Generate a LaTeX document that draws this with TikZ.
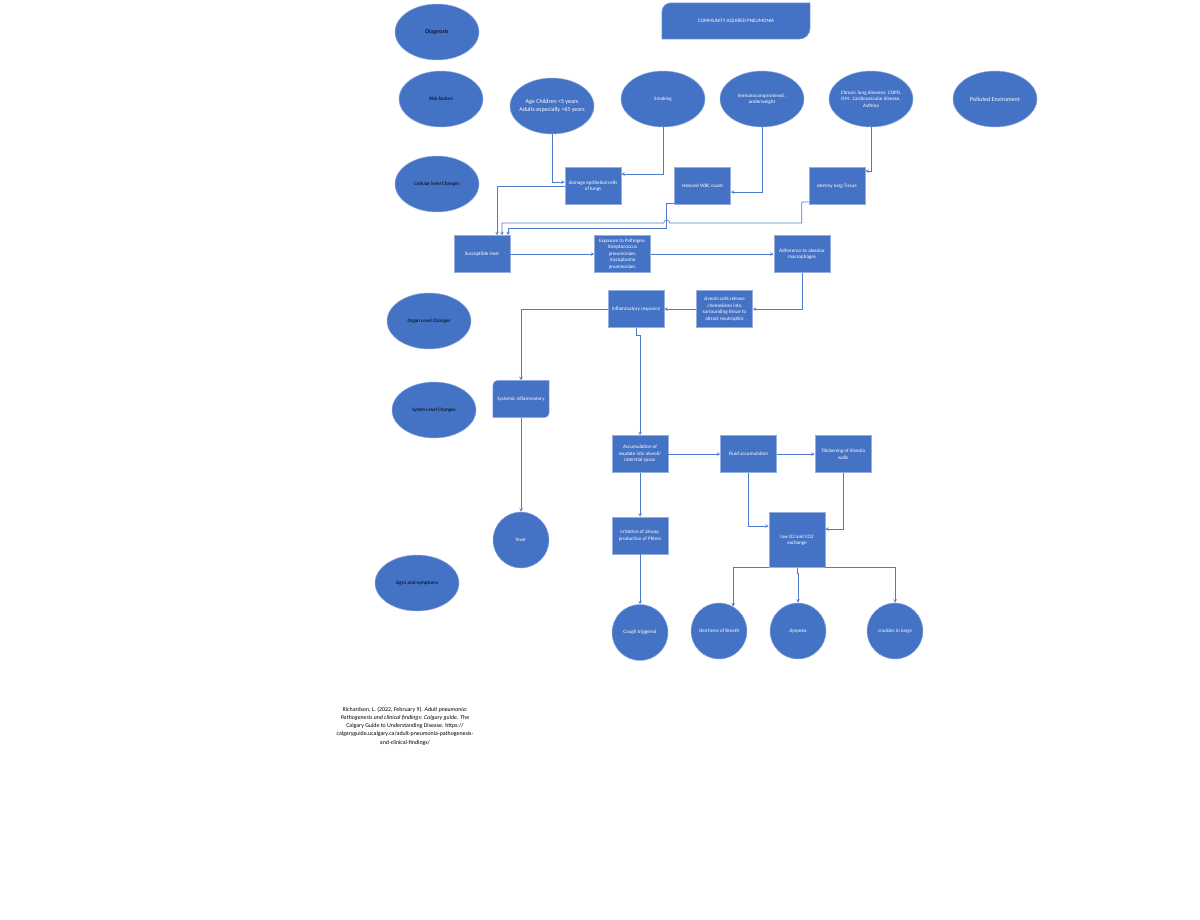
\documentclass[tikz,border=0pt]{standalone}
\usepackage{fontspec}
\setmainfont{Carlito}
\usepackage{tikz}
\usetikzlibrary{shapes.geometric, arrows, positioning, backgrounds}
\definecolor{nodeblue}{RGB}{68,114,196}
\definecolor{edgeblue}{RGB}{150,175,222}
\definecolor{lineblue}{RGB}{80,122,204}
\newcommand{\boxfont}{\fontsize{5.1}{6.6}\selectfont}
\newcommand{\bigfont}{\fontsize{6}{7.6}\selectfont}
\tikzset{
    level/.style={ellipse, draw=edgeblue, fill=nodeblue, line width=0.5pt, minimum width=84pt, minimum height=56pt, inner sep=1pt, align=center, text=black, font=\boxfont},
    factor/.style={ellipse, draw=edgeblue, fill=nodeblue, line width=0.5pt, minimum width=84pt, minimum height=56pt, inner ysep=1pt, inner xsep=-6pt, align=center, text=white, font=\boxfont},
    change/.style={rectangle, draw=edgeblue, fill=nodeblue, line width=0.5pt, minimum width=56pt, minimum height=37pt, inner sep=1pt, align=center, text=white, font=\boxfont},
    symptom/.style={circle, draw=edgeblue, fill=nodeblue, line width=0.5pt, minimum size=56pt, inner sep=0pt, align=center, text=white, font=\boxfont},
    banner/.style={rectangle, inner sep=1pt, align=center, text=white, font=\boxfont},
    arrow/.style={->, >=stealth, line width=0.6pt, draw=lineblue}
}

\begin{document}
\begin{tikzpicture}[x=1pt, y=-1pt]
        \useasboundingbox (0,0) rectangle (1200,919);

        % --- Title and level labels ---
        \node (title) [banner, minimum width=148pt, minimum height=36pt] at (736,21) {COMMUNITY AQUIRED PNEUMONIA};

        \node (diag) [level, font=\bigfont] at (437,32) {Diagnosis};
        \node (risk) [level] at (441,99) {Risk factors};
        \node (cell) [level] at (437,184) {Cellular level Changes};
        \node (organ) [level] at (429,321) {Organ Level Changes};
        \node (sys) [level] at (434,410) {Sytem Level Changes};
        \node (signs) [level] at (417,583) {Signs and symptoms};

        % --- Risk factors ---
        \node (age) [factor, font=\bigfont, inner xsep=-12pt] at (552,106) {Age Children <5 years \\ Adults especially >65 years};
        \node (smoke) [factor] at (663,99) {Smoking};
        \node (immune) [factor] at (762,99) {Immunocompromised , \\ underweight};
        \node (chronic) [factor] at (871,99) {Chronic lung diseases: COPD, \\ DM , Cardiovascular disease, \\ Asthma};
        \node (pollut) [factor, font=\bigfont] at (995,99) {Polluted Enviroment};

        % --- Cellular level ---
        \node (damage) [change] at (593,186) {damage epitheleal cells \\ of lungs};
        \node (wbc) [change, right=53pt of damage] {reduced WBC count};
        \node (destroy) [change, right=78pt of wbc] {destroy lung Tissue};

        \node (host) [change] at (482,254) {Susceptible Host};
        \node (expo) [change, right=84pt of host] {Exposure to Pathogen: \\ Streptococcus \\ pneumoniae, \\ mycoplasma \\ pnuemoniae,};
        \node (adher) [change, right=123pt of expo] {Adherence to alveolar \\ macrophages};

        % --- Organ level ---
        \node (infl) [change] at (636,309) {Inflammatory responce};
        \node (alv) [change, right=32pt of infl] {alveola cells release \\ chemokines into \\ surrounding tissue to \\ attract neutrophils};

        % --- System level ---
        \node (systemic) [banner, minimum width=56pt, minimum height=37pt] at (521,399) {Systemic inflammatory};

        \node (acc) [change] at (640,454) {Accumulation of \\ exudate into alveoli/ \\ interstial space};
        \node (fluid) [change, right=52pt of acc] {Fluid accumulation};
        \node (thick) [change, right=38pt of fluid] {Thickening of Alveola \\ walls};

        \node (fever) [symptom] at (521,540) {fever};
        \node (irrit) [change, below=44pt of acc] {irritation of airway, \\ production of Phlem};
        \node (lowo) [change, minimum height=55pt] at (797,540) {low O2 and CO2 \\ exchange};

        % --- Signs and symptoms ---
        \node (cough) [symptom, below=50pt of irrit] {Cough triggered};
        \node (sob) [symptom] at (719,631) {shortness of Breath};
        \node (dysp) [symptom] at (798,631) {dyspnea};
        \node (crack) [symptom] at (895,631) {crackles in lungs};

        % --- Reference ---
        \node (cite) [align=center, font=\fontsize{5.9}{8.3}\selectfont] at (405,726) {Richardson, L. (2022, February 9). \textit{Adult pneumonia:} \\ \textit{Pathogenesis and clinical findings: Calgary guide}. The \\ Calgary Guide to Understanding Disease. https:// \\ calgaryguide.ucalgary.ca/adult-pneumonia-pathogenesis- \\ and-clinical-findings/};

        % --- Arrows ---
        \draw [arrow] (age.south) |- ([yshift=4pt]damage.west);
        \draw [arrow] (smoke.south) |- ([yshift=12pt]damage.east);
        \draw [arrow] (immune.south) |- ([yshift=-6pt]wbc.east);
        \draw [arrow] (chronic.south) |- ([yshift=15pt]destroy.east);

        \draw [arrow] (damage.west) -| ([xshift=15pt]host.north);
        \draw [arrow] ([yshift=-17pt]wbc.west) -- ++(-8,0) -- ++(0,25) -| ([xshift=26pt]host.north);
        \draw [arrow] ([yshift=-16pt]destroy.west) -- ++(-7,0) -- ++(0,21) -- ++(-132,0) arc[start angle=0, end angle=180, radius=3pt] -| ([xshift=20pt]host.north);

        \draw [arrow] (host) -- (expo);
        \draw [arrow] (expo) -- (adher);
        \draw [arrow] (adher.south) |- (alv.east);
        \draw [arrow] (alv) -- (infl);
        \draw [arrow] (infl.west) -| (systemic.north);
        \draw [arrow] (infl.south) -- ++(0,8) -| (acc.north);
        \draw [arrow] (systemic) -- (fever);

        \draw [arrow] (acc) -- (fluid);
        \draw [arrow] (fluid) -- (thick);
        \draw [arrow] (acc) -- (irrit);
        \draw [arrow] (irrit) -- (cough);
        \draw [arrow] (fluid.south) |- ([yshift=14pt]lowo.west);
        \draw [arrow] (thick.south) |- ([yshift=11pt]lowo.east);

        \draw [arrow] (lowo.south west) -| (sob.60);
        \draw [arrow] (lowo.south) -- ++(0,6) -| (dysp.north);
        \draw [arrow] (lowo.south east) -| (crack.north);

        % --- Shapes with two round corners ---
        \begin{pgfonlayer}{background}
            \path [fill=nodeblue, draw=edgeblue, line width=0.5pt] (title.south west) -- ([yshift=-9pt]title.north west) arc[start angle=180, end angle=90, radius=9pt] -- (title.north east) -- ([yshift=11pt]title.south east) arc[start angle=0, end angle=-90, radius=11pt] -- cycle;
            \path [fill=nodeblue, draw=edgeblue, line width=0.5pt] (systemic.south west) -- ([yshift=-5pt]systemic.north west) arc[start angle=180, end angle=90, radius=5pt] -- (systemic.north east) -- ([yshift=5pt]systemic.south east) arc[start angle=0, end angle=-90, radius=5pt] -- cycle;
        \end{pgfonlayer}
    \end{tikzpicture}
\end{document}
